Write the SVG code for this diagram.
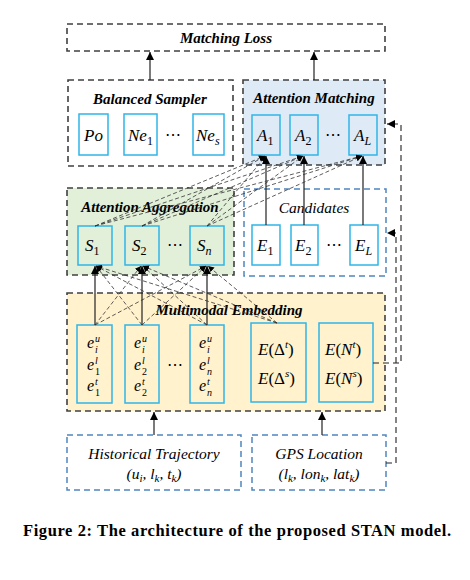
<svg xmlns="http://www.w3.org/2000/svg" width="470" height="580" viewBox="0 0 470 580">
<defs>
<marker id="ah" viewBox="0 0 10 10" refX="10" refY="5" markerWidth="8" markerHeight="8" markerUnits="userSpaceOnUse" orient="auto"><path d="M0,0 L10,5 L0,10 z" fill="#000"/></marker>
<marker id="ahs" viewBox="0 0 10 10" refX="10" refY="5" markerWidth="6" markerHeight="6" markerUnits="userSpaceOnUse" orient="auto"><path d="M0,0 L10,5 L0,10 z" fill="#000"/></marker>
</defs>
<style>
text{font-family:"Liberation Serif","Times New Roman",serif;fill:#000}
.outer{stroke:#404040;stroke-width:1.6;stroke-dasharray:6,4}
.blue{fill:none;stroke:#4f86c0;stroke-width:1.5;stroke-dasharray:6,4}
.inner{fill:none;stroke:#2fb5e8;stroke-width:1.5}
.title{font-weight:bold;font-style:italic;font-size:15px;text-anchor:middle}
.ital{font-style:italic;font-size:15.5px;text-anchor:middle}
.m{font-style:italic;font-size:17px}
.mc{font-style:italic;font-size:17px;text-anchor:middle}
.sub{font-size:12px}
.e{font-style:italic;font-size:16px}
.es{font-style:italic;font-size:10px}
.en{font-size:10px}
.solid{fill:none;stroke:#222;stroke-width:1.2}
.dash{fill:none;stroke:#333;stroke-width:0.8;stroke-dasharray:4,2.5}
.fb{fill:none;stroke:#222;stroke-width:1.1;stroke-dasharray:6,4}
.dots{font-size:16px;text-anchor:middle;font-family:"Liberation Serif",serif}
</style>
<rect width="470" height="580" fill="#fff"/>

<g id="matching-loss">
<rect x="67" y="24" width="318" height="27" fill="none" class="outer"/>
<text x="226" y="43" class="title">Matching Loss</text>
</g>

<g id="balanced-sampler">
<rect x="68" y="80" width="165" height="86" fill="#fff" class="outer"/>
<text x="150" y="104" class="title">Balanced Sampler</text>
<rect x="79" y="114" width="29" height="41" class="inner"/>
<text x="93.5" y="141" class="mc">Po</text>
<rect x="124" y="114" width="33" height="41" class="inner"/>
<text x="128" y="141" class="m">Ne<tspan class="sub" font-style="normal" dy="4">1</tspan></text>
<text x="173" y="140" class="dots">⋯</text>
<rect x="193" y="114" width="31" height="41" class="inner"/>
<text x="196" y="141" class="m">Ne<tspan class="sub" dy="4">s</tspan></text>
</g>

<g id="attention-matching">
<rect x="243" y="80" width="142" height="85" fill="#deeaf6" class="outer"/>
<text x="314" y="103" class="title" font-size="14.5px">Attention Matching</text>
<rect x="252" y="115" width="28" height="40" class="inner"/>
<text x="257" y="141" class="m">A<tspan class="sub" font-style="normal" dy="4">1</tspan></text>
<rect x="290" y="115" width="28" height="40" class="inner"/>
<text x="295" y="141" class="m">A<tspan class="sub" font-style="normal" dy="4">2</tspan></text>
<text x="333" y="140" class="dots">⋯</text>
<rect x="349" y="115" width="28" height="40" class="inner"/>
<text x="354" y="141" class="m">A<tspan class="sub" dy="4">L</tspan></text>
</g>

<g id="attention-aggregation">
<rect x="67" y="188" width="167" height="87" fill="#e2efd9" class="outer"/>
<text x="150" y="212" class="title">Attention Aggregation</text>
<rect x="78" y="226" width="34" height="39" class="inner"/>
<text x="85" y="251" class="m">S<tspan class="sub" font-style="normal" dy="4">1</tspan></text>
<rect x="125" y="226" width="34" height="39" class="inner"/>
<text x="132" y="251" class="m">S<tspan class="sub" font-style="normal" dy="4">2</tspan></text>
<text x="175" y="250" class="dots">⋯</text>
<rect x="190" y="226" width="34" height="39" class="inner"/>
<text x="197" y="251" class="m">S<tspan class="sub" dy="4">n</tspan></text>
</g>

<g id="candidates">
<rect x="244" y="189" width="142" height="87" class="blue"/>
<text x="314" y="213" class="ital">Candidates</text>
<rect x="252" y="225" width="28" height="40" class="inner"/>
<text x="257" y="251" class="m">E<tspan class="sub" font-style="normal" dy="4">1</tspan></text>
<rect x="291" y="225" width="27" height="40" class="inner"/>
<text x="295" y="251" class="m">E<tspan class="sub" font-style="normal" dy="4">2</tspan></text>
<text x="334" y="250" class="dots">⋯</text>
<rect x="350" y="225" width="28" height="40" class="inner"/>
<text x="355" y="251" class="m">E<tspan class="sub" dy="4">L</tspan></text>
</g>

<g id="multimodal-embedding">
<rect x="67" y="293" width="318" height="118" fill="#fff2cc" class="outer"/>
<text x="229" y="315" class="title" font-size="15.5px">Multimodal Embedding</text>
<rect x="77" y="325" width="35" height="78" class="inner"/>
<text x="87" y="348" class="e">e</text><text x="95" y="342" class="es">u</text><text x="95" y="353" class="es">i</text>
<text x="87" y="370" class="e">e</text><text x="95" y="364" class="es">l</text><text x="95" y="375" class="en">1</text>
<text x="87" y="391" class="e">e</text><text x="95" y="385" class="es">t</text><text x="95" y="396" class="en">1</text>
<rect x="125" y="325" width="34" height="78" class="inner"/>
<text x="134" y="348" class="e">e</text><text x="142" y="342" class="es">u</text><text x="142" y="353" class="es">i</text>
<text x="134" y="370" class="e">e</text><text x="142" y="364" class="es">l</text><text x="142" y="375" class="en">2</text>
<text x="134" y="391" class="e">e</text><text x="142" y="385" class="es">t</text><text x="142" y="396" class="en">2</text>
<text x="175" y="370" class="dots">⋯</text>
<rect x="190" y="325" width="34" height="78" class="inner"/>
<text x="199" y="348" class="e">e</text><text x="207" y="342" class="es">u</text><text x="207" y="353" class="es">i</text>
<text x="199" y="370" class="e">e</text><text x="207" y="364" class="es">l</text><text x="207" y="375" class="es">n</text>
<text x="199" y="391" class="e">e</text><text x="207" y="385" class="es">t</text><text x="207" y="396" class="es">n</text>
<rect x="251" y="323" width="55" height="79" class="inner"/>
<text x="258" y="355" class="m" font-size="16px">E<tspan font-style="normal">(Δ</tspan><tspan font-size="11px" dy="-7">t</tspan><tspan font-style="normal" dy="7">)</tspan></text>
<text x="258" y="384" class="m" font-size="16px">E<tspan font-style="normal">(Δ</tspan><tspan font-size="11px" dy="-7">s</tspan><tspan font-style="normal" dy="7">)</tspan></text>
<rect x="319" y="323" width="54" height="79" class="inner"/>
<text x="325" y="355" class="m" font-size="16px">E<tspan font-style="normal">(</tspan>N<tspan font-size="11px" dy="-7">t</tspan><tspan font-style="normal" dy="7">)</tspan></text>
<text x="325" y="384" class="m" font-size="16px">E<tspan font-style="normal">(</tspan>N<tspan font-size="11px" dy="-7">s</tspan><tspan font-style="normal" dy="7">)</tspan></text>
</g>

<g id="historical-trajectory">
<rect x="67" y="435" width="174" height="55" class="blue"/>
<text x="154" y="459" class="ital">Historical Trajectory</text>
<text x="154" y="479" class="ital">(u<tspan font-size="11px" dy="3">i</tspan><tspan dy="-3">, l</tspan><tspan font-size="11px" dy="3">k</tspan><tspan dy="-3">, t</tspan><tspan font-size="11px" dy="3">k</tspan><tspan dy="-3">)</tspan></text>
</g>

<g id="gps-location">
<rect x="252" y="435" width="134" height="55" class="blue"/>
<text x="319" y="459" class="ital">GPS Location</text>
<text x="319" y="479" class="ital">(l<tspan font-size="11px" dy="3">k</tspan><tspan dy="-3">, lon</tspan><tspan font-size="11px" dy="3">k</tspan><tspan dy="-3">, lat</tspan><tspan font-size="11px" dy="3">k</tspan><tspan dy="-3">)</tspan></text>
</g>

<g id="connectors">
<path class="solid" d="M150,80 L150,52" marker-end="url(#ah)"/>
<path class="solid" d="M314,80 L314,52" marker-end="url(#ah)"/>
<path class="solid" d="M266,225 L266,156" marker-end="url(#ah)"/>
<path class="solid" d="M304,225 L304,156" marker-end="url(#ah)"/>
<path class="solid" d="M363,225 L363,156" marker-end="url(#ah)"/>
<path class="solid" d="M95,325 L95,266" marker-end="url(#ah)"/>
<path class="solid" d="M142,325 L142,266" marker-end="url(#ah)"/>
<path class="solid" d="M207,325 L207,266" marker-end="url(#ah)"/>
<path class="solid" d="M154,435 L154,412" marker-end="url(#ah)"/>
<path class="solid" d="M322,435 L322,412" marker-end="url(#ah)"/>
<path class="dash" d="M142,325 L96,266" marker-end="url(#ahs)"/>
<path class="dash" d="M207,325 L96,266" marker-end="url(#ahs)"/>
<path class="dash" d="M277,323 L96,266" marker-end="url(#ahs)"/>
<path class="dash" d="M95,325 L141,266" marker-end="url(#ahs)"/>
<path class="dash" d="M207,325 L143,266" marker-end="url(#ahs)"/>
<path class="dash" d="M277,323 L143,266" marker-end="url(#ahs)"/>
<path class="dash" d="M95,325 L206,266" marker-end="url(#ahs)"/>
<path class="dash" d="M142,325 L206,266" marker-end="url(#ahs)"/>
<path class="dash" d="M277,323 L208,266" marker-end="url(#ahs)"/>
<path class="dash" d="M95,226 L265,156" marker-end="url(#ahs)"/>
<path class="dash" d="M142,226 L265,156" marker-end="url(#ahs)"/>
<path class="dash" d="M207,226 L266,156" marker-end="url(#ahs)"/>
<path class="dash" d="M95,226 L303,156" marker-end="url(#ahs)"/>
<path class="dash" d="M142,226 L303,156" marker-end="url(#ahs)"/>
<path class="dash" d="M207,226 L303,156" marker-end="url(#ahs)"/>
<path class="dash" d="M95,226 L362,156" marker-end="url(#ahs)"/>
<path class="dash" d="M142,226 L362,156" marker-end="url(#ahs)"/>
<path class="dash" d="M207,226 L362,156" marker-end="url(#ahs)"/>
<path class="fb" d="M386,463 L396,463 L396,233 L387,233" marker-end="url(#ah)"/>
<path class="fb" d="M373,363 L401,363 L401,124 L387,124" marker-end="url(#ah)"/>
</g>

<text x="237" y="536" font-size="16.5px" font-weight="bold" text-anchor="middle" textLength="428" lengthAdjust="spacing">Figure 2: The architecture of the proposed STAN model.</text>
</svg>
